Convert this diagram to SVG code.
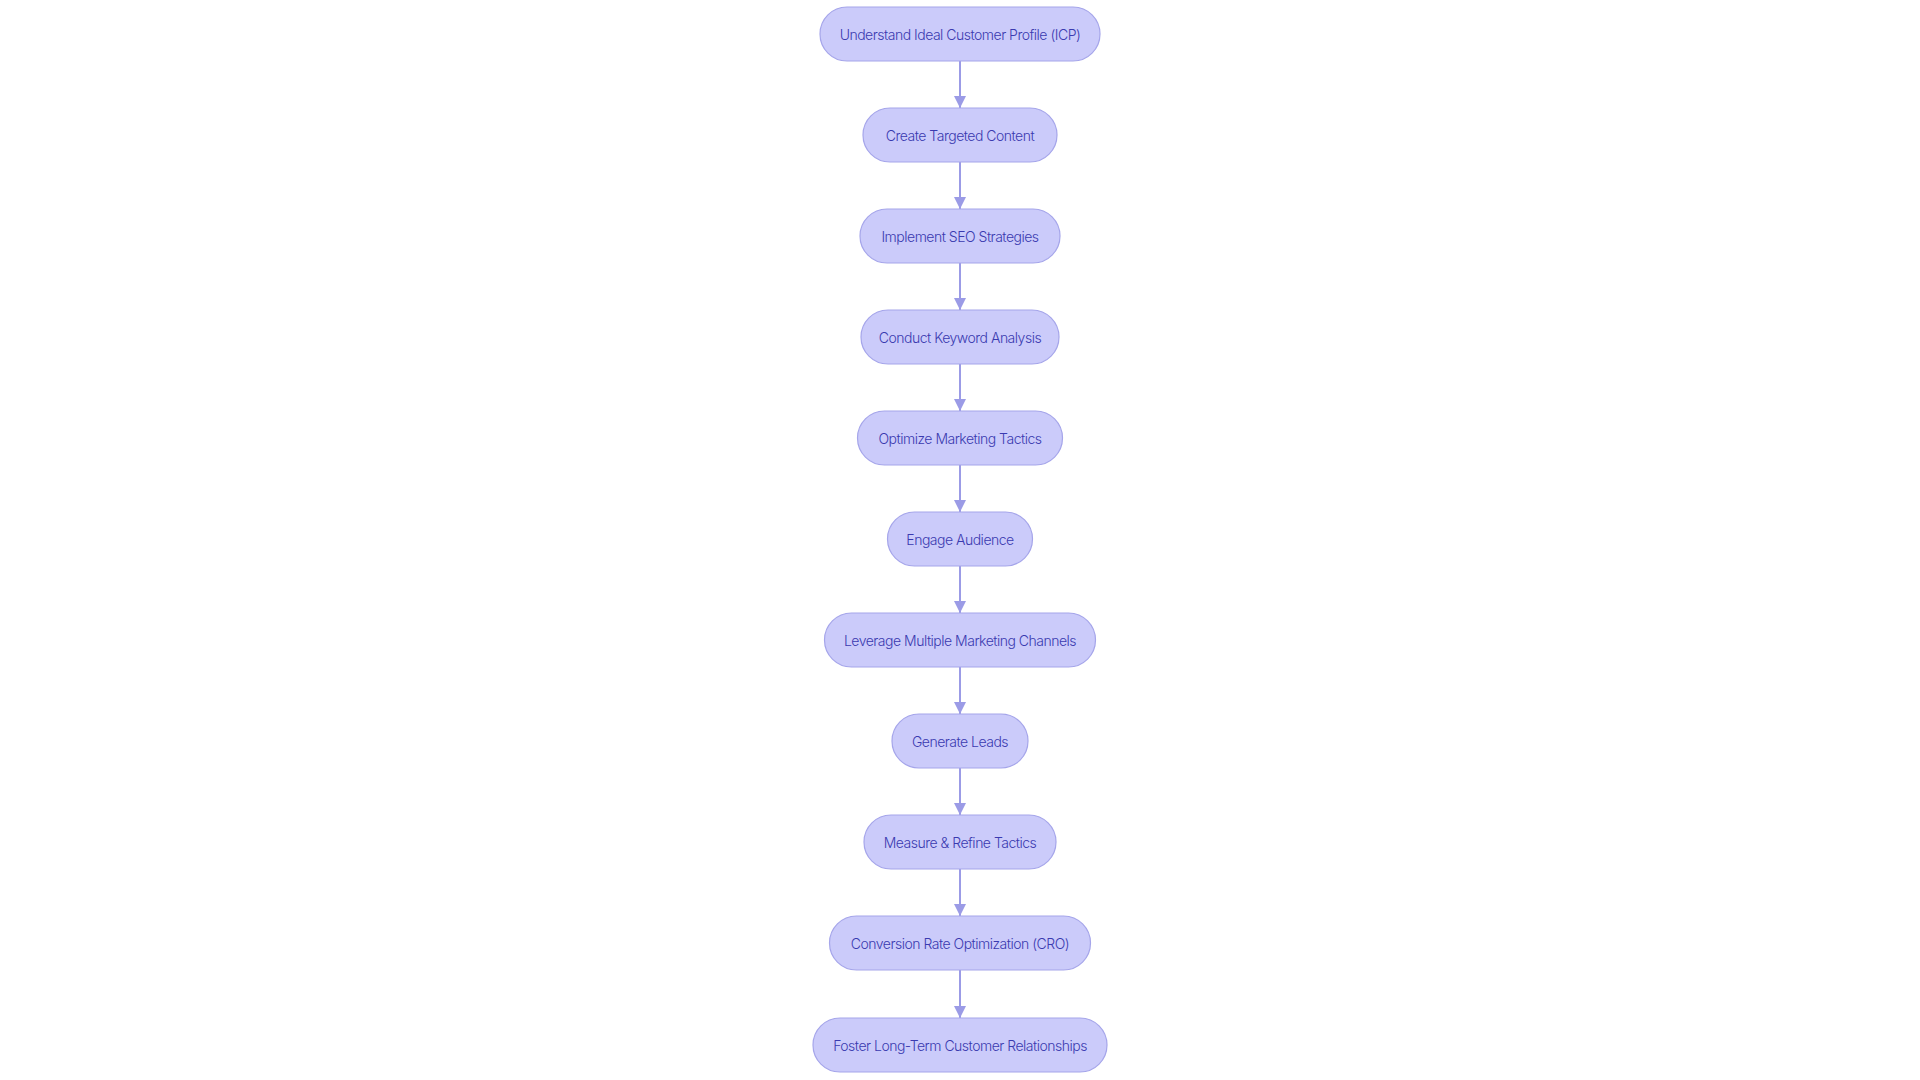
<svg xmlns="http://www.w3.org/2000/svg" width="1920" height="1080" viewBox="0 0 1920 1080">
<defs>
<style>
.node rect{fill:#cbcbfa;stroke:#a5a5ea;stroke-width:1.2}
.node text{font-family:Inter,"Noto Sans",sans-serif;font-size:14px;font-weight:350;letter-spacing:-0.5px;fill:#3a3ab0;text-anchor:middle;dominant-baseline:central}
.edge{stroke:#9b9be6;stroke-width:2;fill:none;marker-end:url(#arr)}
</style>
<marker id="arr" viewBox="0 0 10 10" refX="10" refY="5" markerWidth="6" markerHeight="6" markerUnits="strokeWidth" orient="auto">
<path d="M0,0 L10,5 L0,10 z" fill="#9b9be6"/>
</marker>
</defs>
<rect width="1920" height="1080" fill="#ffffff"/>
<g id="connectors">
<line class="edge" x1="960" y1="61" x2="960" y2="108"/>
<line class="edge" x1="960" y1="162" x2="960" y2="209"/>
<line class="edge" x1="960" y1="263" x2="960" y2="310"/>
<line class="edge" x1="960" y1="364" x2="960" y2="411"/>
<line class="edge" x1="960" y1="465" x2="960" y2="512"/>
<line class="edge" x1="960" y1="566" x2="960" y2="613"/>
<line class="edge" x1="960" y1="667" x2="960" y2="714"/>
<line class="edge" x1="960" y1="768" x2="960" y2="815"/>
<line class="edge" x1="960" y1="869" x2="960" y2="916"/>
<line class="edge" x1="960" y1="970" x2="960" y2="1018"/>
</g>
<g id="n1" class="node"><rect x="820" y="7" width="280" height="54" rx="27"/><text x="960" y="34">Understand Ideal Customer Profile (ICP)</text></g>
<g id="n2" class="node"><rect x="863" y="108" width="194" height="54" rx="27"/><text x="960" y="135">Create Targeted Content</text></g>
<g id="n3" class="node"><rect x="860" y="209" width="200" height="54" rx="27"/><text x="960" y="236">Implement SEO Strategies</text></g>
<g id="n4" class="node"><rect x="861" y="310" width="198" height="54" rx="27"/><text x="960" y="337">Conduct Keyword Analysis</text></g>
<g id="n5" class="node"><rect x="857.5" y="411" width="205" height="54" rx="27"/><text x="960" y="438">Optimize Marketing Tactics</text></g>
<g id="n6" class="node"><rect x="887.5" y="512" width="145" height="54" rx="27"/><text x="960" y="539">Engage Audience</text></g>
<g id="n7" class="node"><rect x="824.5" y="613" width="271" height="54" rx="27"/><text x="960" y="640">Leverage Multiple Marketing Channels</text></g>
<g id="n8" class="node"><rect x="892" y="714" width="136" height="54" rx="27"/><text x="960" y="741">Generate Leads</text></g>
<g id="n9" class="node"><rect x="864" y="815" width="192" height="54" rx="27"/><text x="960" y="842">Measure &amp; Refine Tactics</text></g>
<g id="n10" class="node"><rect x="829.5" y="916" width="261" height="54" rx="27"/><text x="960" y="943">Conversion Rate Optimization (CRO)</text></g>
<g id="n11" class="node"><rect x="813" y="1018" width="294" height="54" rx="27"/><text x="960" y="1045">Foster Long-Term Customer Relationships</text></g>
</svg>
